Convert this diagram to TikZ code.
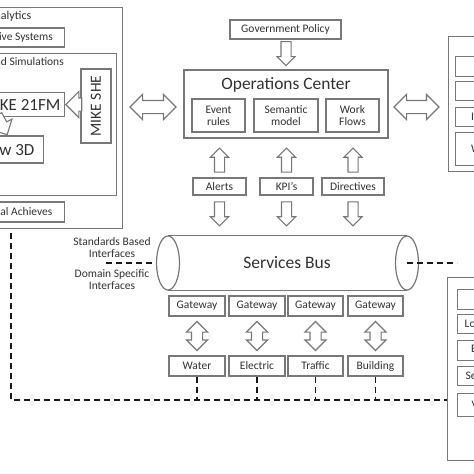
\documentclass[tikz,border=0pt]{standalone}
\usepackage{fontspec}
\setmainfont{Carlito}
\usetikzlibrary{shapes.geometric,shapes.arrows,calc}
\definecolor{linegray}{RGB}{120,120,120}
\definecolor{textgray}{RGB}{50,50,50}
\tikzset{
    box/.style={draw=linegray, line width=1.2pt, text=textgray, font=\fontsize{11.5}{12}\selectfont, inner sep=0pt, align=center},
    label/.style={text=textgray, font=\fontsize{11.5}{12}\selectfont, inner sep=0pt, align=center},
    bigtext/.style={text=textgray, font=\fontsize{17}{18}\selectfont, inner sep=0pt},
    blockarrow/.style={draw=linegray, line width=1.1pt, fill=white, inner xsep=0pt},
    sarrow/.style={blockarrow, single arrow, single arrow head extend=4pt, inner ysep=4.5pt, minimum height=24pt},
    darrow/.style={blockarrow, double arrow, double arrow head extend=5pt, inner ysep=5pt},
    dashline/.style={draw=black!90, line width=1.6pt, dash pattern=on 6pt off 4pt}
}
\begin{document}
\begin{tikzpicture}[x=1pt, y=-1pt]
            \useasboundingbox (0,0) rectangle (474,474);

            \fill[white] (0,0) rectangle (474,474);

            \clip (0,0) rectangle (474,474);

            \node[box, minimum width=160pt, minimum height=221pt, anchor=north east] (analytics) at (123,7) {};

            \node[label, anchor=east, font=\fontsize{12}{13}\selectfont] (analyticstitle) at (31.5,16) {Analytics};

            \node[box, anchor=east, minimum height=19pt, inner xsep=11.5pt] (adaptive) at (65,37.5) {Adaptive Systems};

            \node[box, minimum width=150pt, minimum height=142pt, anchor=north east] (models) at (117,53) {};

            \node[label, anchor=east] (modelstitle) at (64,62) {Models and Simulations};

            \node[box, anchor=east, minimum height=24pt, inner xsep=4pt, font=\fontsize{17}{18}\selectfont] (mike21) at (65,104.5) {MIKE 21FM};

            \node[box, rotate=90, minimum width=74pt, minimum height=30pt, font=\fontsize{15.5}{16}\selectfont] (mikeshe) at (96,106) {MIKE SHE};

            \node[box, anchor=east, minimum height=27pt, inner xsep=9pt, font=\fontsize{17}{18}\selectfont] (flow) at (44,149.5) {Flow 3D};

            \node[box, anchor=east, minimum height=20pt, inner xsep=12pt] (historical) at (65,212) {Historical Achieves};

            \node[blockarrow, single arrow, single arrow head extend=6.5pt, inner ysep=6pt, minimum height=16pt, rotate=180, anchor=tip] (sheto21) at (mike21.east) {};

            \node[sarrow, single arrow head extend=6pt, inner ysep=5pt, minimum height=22pt, rotate=-62, anchor=tip] (21toflow) at ([xshift=1pt]flow.north) {};

            \node[darrow, minimum height=46pt, double arrow head extend=6pt, inner ysep=6pt] (leftlink) at (153,107) {};

            \node[box, minimum width=111pt, minimum height=19pt] (gov) at (285.5,29.5) {Government Policy};

            \node[box, minimum width=204pt, minimum height=68pt] (ops) at (286,104) {};

            \node[sarrow, rotate=-90, anchor=tip] (govarrow) at ([yshift=3pt]ops.north) {};

            \node[bigtext, font=\fontsize{17.4}{18}\selectfont] (opstitle) at (286,85) {Operations Center};

            \node[box, minimum width=53pt, minimum height=33pt] (eventrules) at (218.5,115.5) {Event\\rules};

            \node[box, minimum width=64pt, minimum height=33pt] (semantic) at (286,115.5) {Semantic\\model};

            \node[box, minimum width=53pt, minimum height=33pt] (workflows) at (352.5,115.5) {Work\\Flows};

            \node[darrow, minimum height=45pt, double arrow head extend=6pt, inner ysep=6pt] (rightlink) at (416.5,107) {};

            \node[box, minimum width=53pt, minimum height=17pt] (alerts) at (219.5,186.5) {Alerts};

            \node[box, minimum width=53pt, minimum height=17pt] (kpis) at (286.5,186.5) {KPI’s};

            \node[box, minimum width=62pt, minimum height=17pt] (directives) at (353,186.5) {Directives};

            \foreach \n in {alerts, kpis, directives} {
                \node[sarrow, rotate=90, anchor=tip] (\n up) at ([yshift=30pt]\n.north) {};
                \node[sarrow, rotate=-90, anchor=tip] (\n down) at ([yshift=-31pt]\n.south) {};
            }

            \node[ellipse, draw=linegray, line width=1.2pt, minimum width=23pt, minimum height=54pt, inner sep=0pt] (busleft) at (168,263) {};

            \node[ellipse, draw=linegray, line width=1.2pt, minimum width=23pt, minimum height=54pt, inner sep=0pt] (busright) at (407,263) {};

            \draw[linegray, line width=1.2pt] (busleft.north) -- (busright.north);

            \draw[linegray, line width=1.2pt] (busleft.south) -- (busright.south);

            \node[bigtext, font=\fontsize{17.5}{18}\selectfont] (bus) at (287,263) {Services Bus};

            \node[label] (standards) at (112,247.5) {Standards Based\\Interfaces};

            \node[label] (domain) at (112,279.5) {Domain Specific\\Interfaces};

            \coordinate (ifc) at (106,263);

            \draw[dashline] (ifc) -- (busleft.west);

            \coordinate (busend) at (457,263);

            \draw[dashline] (busright.center) -- (busend);

            \node[box, minimum width=56pt, minimum height=20pt] (gw1) at (197,306) {Gateway};

            \node[box, minimum width=56pt, minimum height=20pt] (gw2) at (257,306) {Gateway};

            \node[box, minimum width=55pt, minimum height=20pt] (gw3) at (315.5,306) {Gateway};

            \node[box, minimum width=55pt, minimum height=20pt] (gw4) at (375.5,306) {Gateway};

            \node[box, minimum width=56pt, minimum height=20pt] (water) at (197,366) {Water};

            \node[box, minimum width=56pt, minimum height=20pt] (electric) at (257,366) {Electric};

            \node[box, minimum width=55pt, minimum height=20pt] (traffic) at (315.5,366) {Traffic};

            \node[box, minimum width=55pt, minimum height=20pt] (building) at (375.5,366) {Building};

            \foreach \g/\d in {gw1/water, gw2/electric, gw3/traffic, gw4/building} {
                \node[darrow, rotate=90, minimum height=29pt] (\g link) at ($(\g.south)!0.5!(\d.north)$) {};
            }

            \node[box, minimum width=60pt, minimum height=135pt, anchor=north west] (devices) at (448,36) {};

            \node[box, minimum width=40pt, minimum height=20pt, anchor=north west] (dev1) at (455,56) {};

            \node[box, minimum width=40pt, minimum height=19pt, anchor=north west] (dev2) at (455,81) {};

            \node[box, minimum width=40pt, minimum height=19pt, anchor=north west] (dev3) at (455,107) {};

            \node[box, minimum width=40pt, minimum height=33pt, anchor=north west] (dev4) at (455,132) {};

            \node[label, anchor=west] at (471,116.5) {IoT Data};

            \node[label, anchor=west] at (471,148.5) {Weather};

            \node[box, minimum width=60pt, minimum height=183pt, anchor=north west] (sources) at (447,277) {};

            \node[box, minimum width=40pt, minimum height=20pt, anchor=north west] (src1) at (457,289) {};

            \node[box, minimum width=40pt, minimum height=19pt, anchor=north west] (src2) at (457,314) {};

            \node[box, minimum width=40pt, minimum height=20pt, anchor=north west] (src3) at (457,340) {};

            \node[box, minimum width=40pt, minimum height=19pt, anchor=north west] (src4) at (457,366) {};

            \node[box, minimum width=40pt, minimum height=23pt, anchor=north west] (src5) at (457,393) {};

            \node[label, anchor=west] at (464.5,323.5) {Location};

            \node[label, anchor=west] at (471,350) {Energy};

            \node[label, anchor=west] at (465.5,375.5) {Sensors};

            \node[label, anchor=west] at (471.5,404.5) {Video};

            \coordinate (corner) at (11,400);

            \draw[dashline] ([yshift=-4pt]analytics.south -| corner) -- (corner) -- (corner -| sources.west);

            \foreach \d in {water, electric, traffic, building} {
                \draw[dashline] (\d.south) -- (\d.south |- corner);
            }
        \end{tikzpicture}
\end{document}
